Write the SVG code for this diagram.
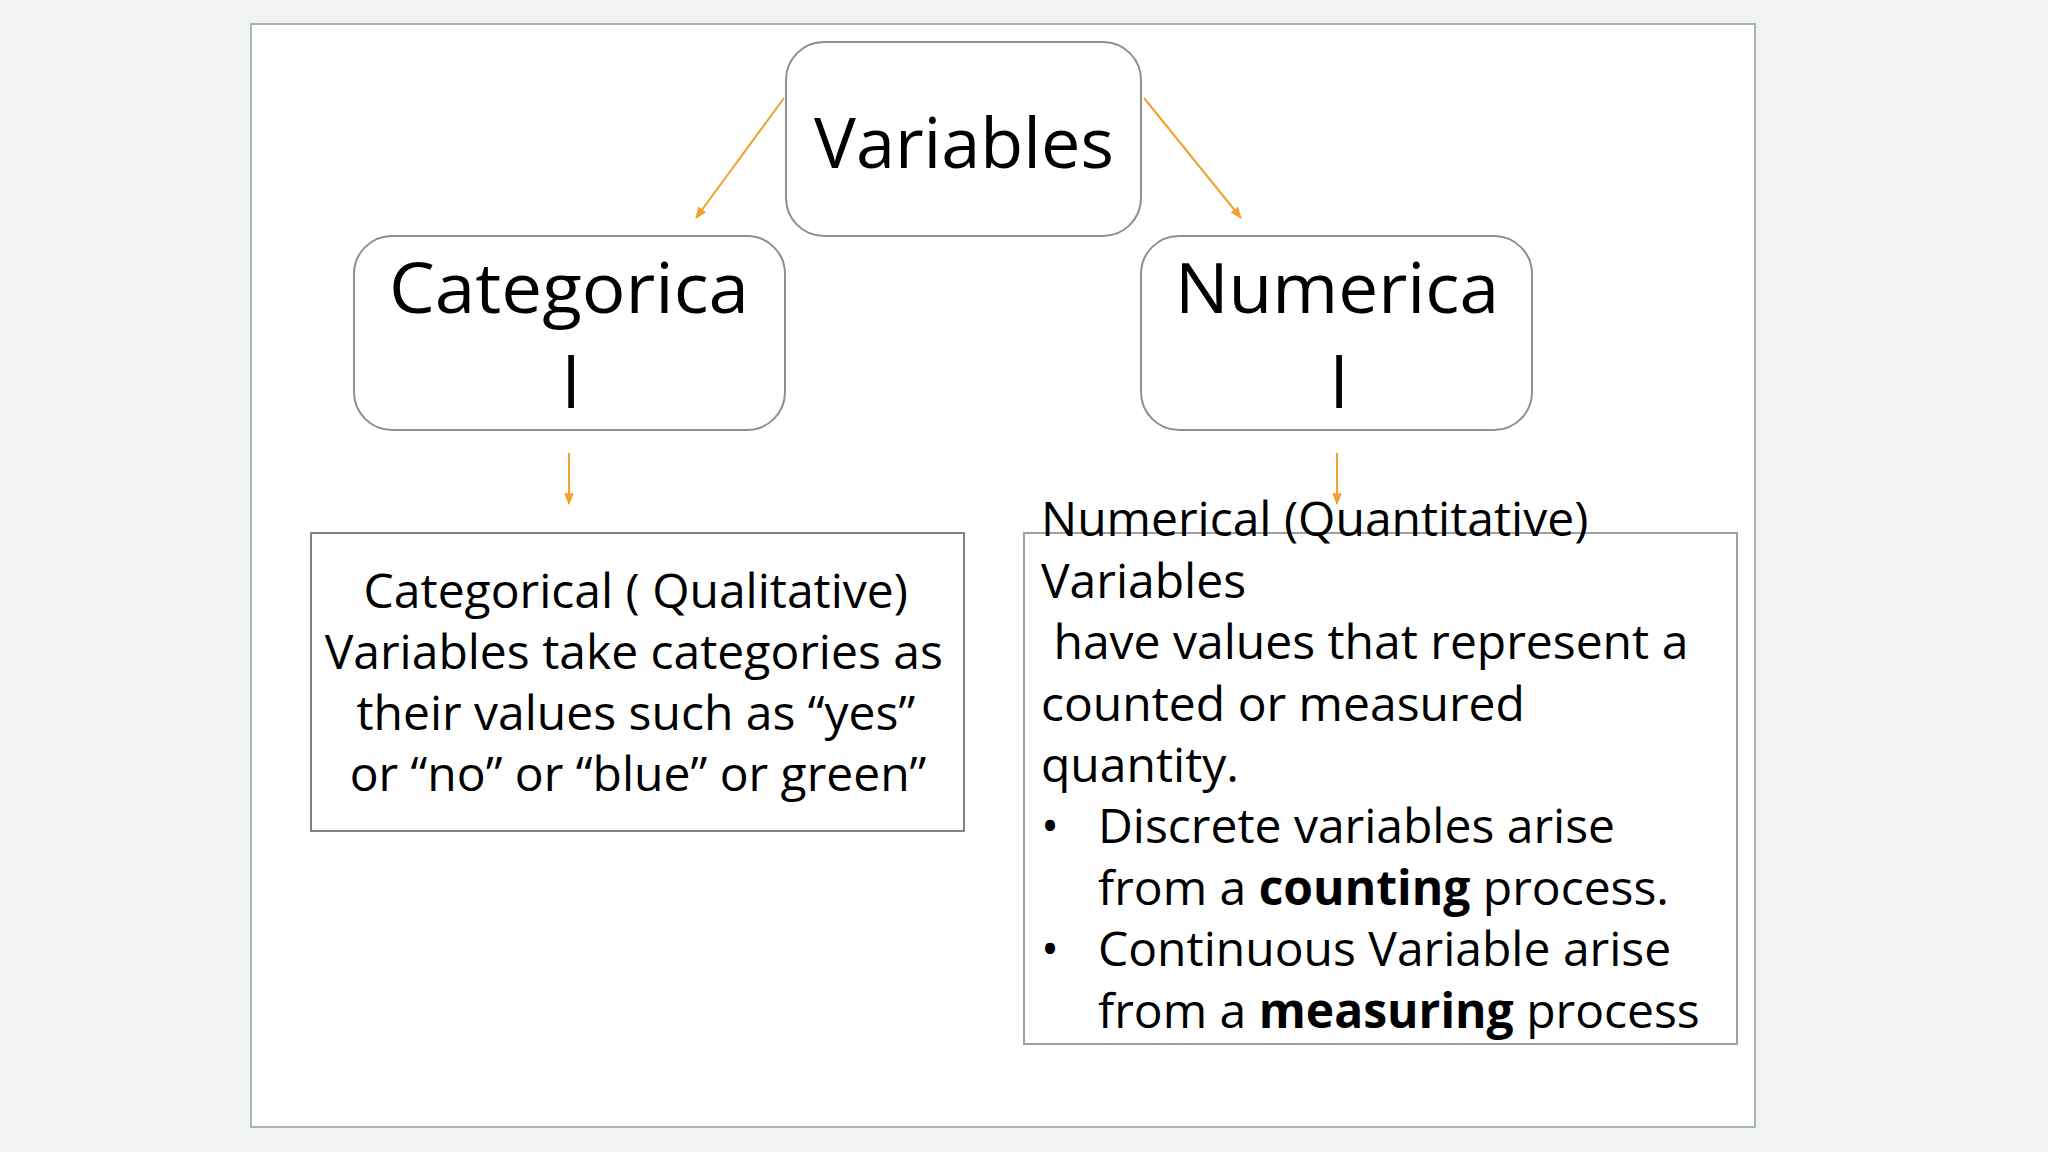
<svg xmlns="http://www.w3.org/2000/svg" width="2048" height="1152" viewBox="0 0 2048 1152">
<defs>
<style>
.bg{fill:#f1f2f2}
.slide{fill:#ffffff;stroke:#a9b4b4;stroke-width:2}
.rbox{fill:#ffffff;stroke:#8f8f8f;stroke-width:2}
.t{font-family:"Open Sans","Noto Sans","DejaVu Sans",sans-serif;fill:#000000}
.big{font-size:70px}
.mid{font-size:48px}
.b{font-weight:bold}
.conn{stroke:#f0a22e;stroke-width:2;fill:none}
</style>
<marker id="ah" viewBox="0 0 10 10" refX="9" refY="5" markerWidth="6" markerHeight="6" orient="auto" markerUnits="strokeWidth">
<path d="M0,1 L10,5 L0,9 z" fill="#f0a22e"/>
</marker>
</defs>
<rect class="bg" x="0" y="0" width="2048" height="1152"/>
<rect class="slide" x="251" y="24" width="1504" height="1103"/>

<g id="node-variables">
<rect class="rbox" x="786" y="42" width="355" height="194" rx="38" ry="38"/>
<text class="t big" x="964" y="168" text-anchor="middle" textLength="300" lengthAdjust="spacingAndGlyphs">Variables</text>
</g>

<g id="node-categorical">
<rect class="rbox" x="354" y="236" width="431" height="194" rx="38" ry="38"/>
<text class="t big" x="569" y="313" text-anchor="middle" textLength="360" lengthAdjust="spacingAndGlyphs">Categorica</text>
<text class="t big" x="571" y="408" text-anchor="middle">l</text>
</g>

<g id="node-numerical">
<rect class="rbox" x="1141" y="236" width="391" height="194" rx="38" ry="38"/>
<text class="t big" x="1337" y="313" text-anchor="middle" textLength="324" lengthAdjust="spacingAndGlyphs">Numerica</text>
<text class="t big" x="1339" y="408" text-anchor="middle">l</text>
</g>

<g id="node-categorical-desc">
<rect x="311" y="533" width="653" height="298" fill="#ffffff" stroke="#8a8178" stroke-width="2"/>
<text class="t mid" text-anchor="middle">
<tspan x="642" y="608">Categorical ( Qualitative)</tspan>
<tspan x="640" y="669">Variables take categories as</tspan>
<tspan x="642" y="730">their values such as “yes”</tspan>
<tspan x="638" y="791">or “no” or “blue” or green”</tspan>
</text>
</g>

<g id="node-numerical-desc">
<rect x="1024" y="533" width="713" height="511" fill="#ffffff" stroke="#a0a0a0" stroke-width="2"/>
<text class="t mid">
<tspan x="1041" y="536">Numerical (Quantitative)</tspan>
<tspan x="1041" y="598">Variables</tspan>
<tspan x="1041" y="659" xml:space="preserve"> have values that represent a</tspan>
<tspan x="1041" y="721">counted or measured</tspan>
<tspan x="1041" y="782">quantity.</tspan>
</text>
<text class="t mid" x="1041" y="843">•</text>
<text class="t mid" x="1098" y="843">Discrete variables arise</text>
<text class="t mid" x="1098" y="905">from a <tspan class="b">counting</tspan> process.</text>
<text class="t mid" x="1041" y="966">•</text>
<text class="t mid" x="1098" y="966">Continuous Variable arise</text>
<text class="t mid" x="1098" y="1028">from a <tspan class="b">measuring</tspan> process</text>
</g>

<g id="connectors">
<line class="conn" x1="784" y1="98" x2="696" y2="218" marker-end="url(#ah)"/>
<line class="conn" x1="1144" y1="98" x2="1241" y2="218" marker-end="url(#ah)"/>
<line class="conn" x1="569" y1="453" x2="569" y2="504" marker-end="url(#ah)"/>
<line class="conn" x1="1337" y1="453" x2="1337" y2="504" marker-end="url(#ah)"/>
</g>
</svg>
